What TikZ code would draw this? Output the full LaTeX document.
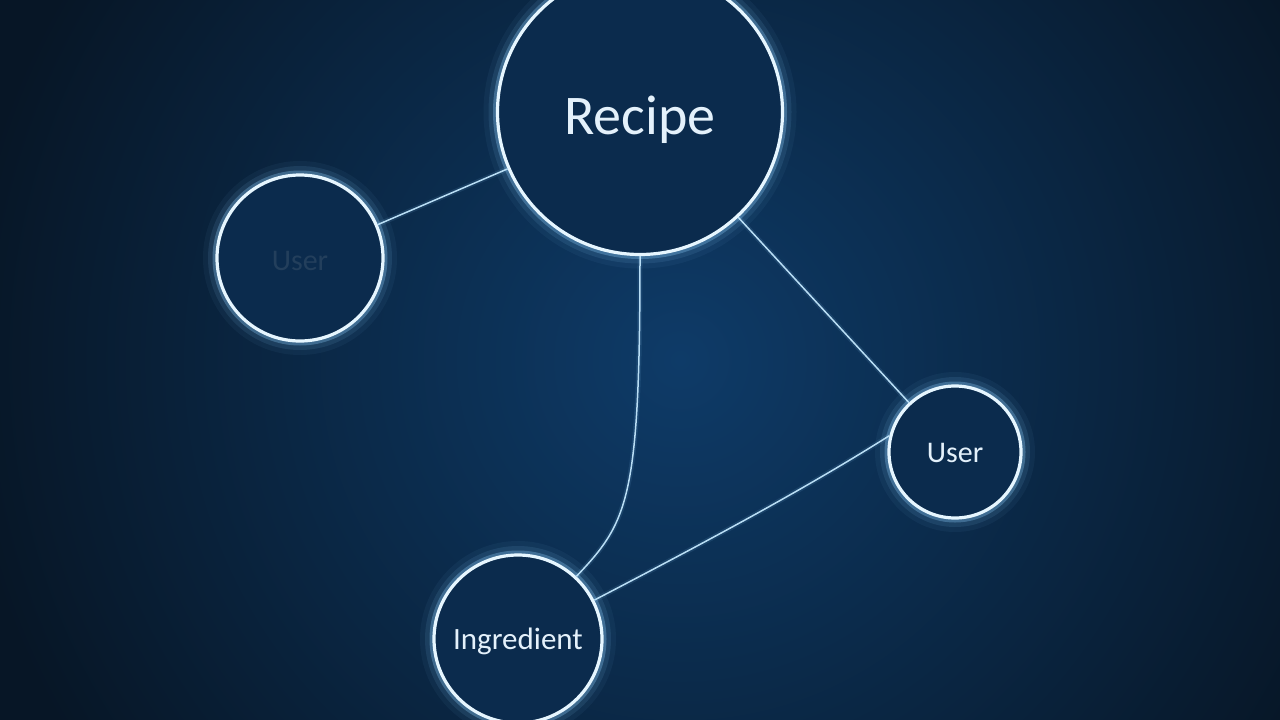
\documentclass[tikz,border=0pt]{standalone}
\usepackage{fontspec}
\setmainfont{Carlito}
\definecolor{bgin}{HTML}{0e3b68}
\definecolor{bgout}{HTML}{071626}
\definecolor{glowc}{HTML}{8fd0ff}
\definecolor{rimc}{HTML}{e6f6ff}
\definecolor{edgec}{HTML}{b9def5}
\definecolor{fillc}{HTML}{0b2b4d}
\definecolor{textc}{HTML}{e4f1fb}
\definecolor{fadec}{HTML}{233f5c}
\begin{document}
\begin{tikzpicture}[x=1pt,y=-1pt,
  glownode/.style={circle, draw=rimc, line width=3.2pt, fill=fillc,
    preaction={draw=glowc, line width=28pt, draw opacity=0.05},
    preaction={draw=glowc, line width=18pt, draw opacity=0.10},
    preaction={draw=glowc, line width=9pt, draw opacity=0.30},
    text=textc, inner sep=0pt},
  link/.style={draw=edgec, line width=1.5pt,
    preaction={draw=glowc, line width=5pt, draw opacity=0.10}}
]
\useasboundingbox (0,0) rectangle (1280,720);
\begin{scope}
\clip (0,0) rectangle (1280,720);
\fill[bgout] (0,0) rectangle (1280,720);
\shade[inner color=bgin, outer color=bgout] (680,360) circle (720);
\end{scope}

\node[glownode, minimum size=285pt, font=\fontsize{56}{60}\selectfont, text height=44pt, text depth=0pt] (recipe) at (640,112) {Recipe};
\node[glownode, minimum size=166pt, font=\fontsize{30}{34}\selectfont, text=fadec, text height=24pt, text depth=0pt] (userL) at (300,258) {User};
\node[glownode, minimum size=132pt, font=\fontsize{30}{34}\selectfont, text height=20pt, text depth=0pt] (userR) at (955,452) {User};
\node[glownode, minimum size=168pt, font=\fontsize{31}{34}\selectfont, text height=20pt, text depth=0pt] (ingr) at (518,639) {Ingredient};

\draw[link] (recipe) -- (userL);
\draw[link] (recipe.-47) -- (userR.133);
\draw[link] (recipe.south) .. controls (640,500) and (628,522) .. (ingr.47);
\draw[link] (ingr.27) .. controls (700,545) and (800,492) .. (userR.166);
\end{tikzpicture}
\end{document}
